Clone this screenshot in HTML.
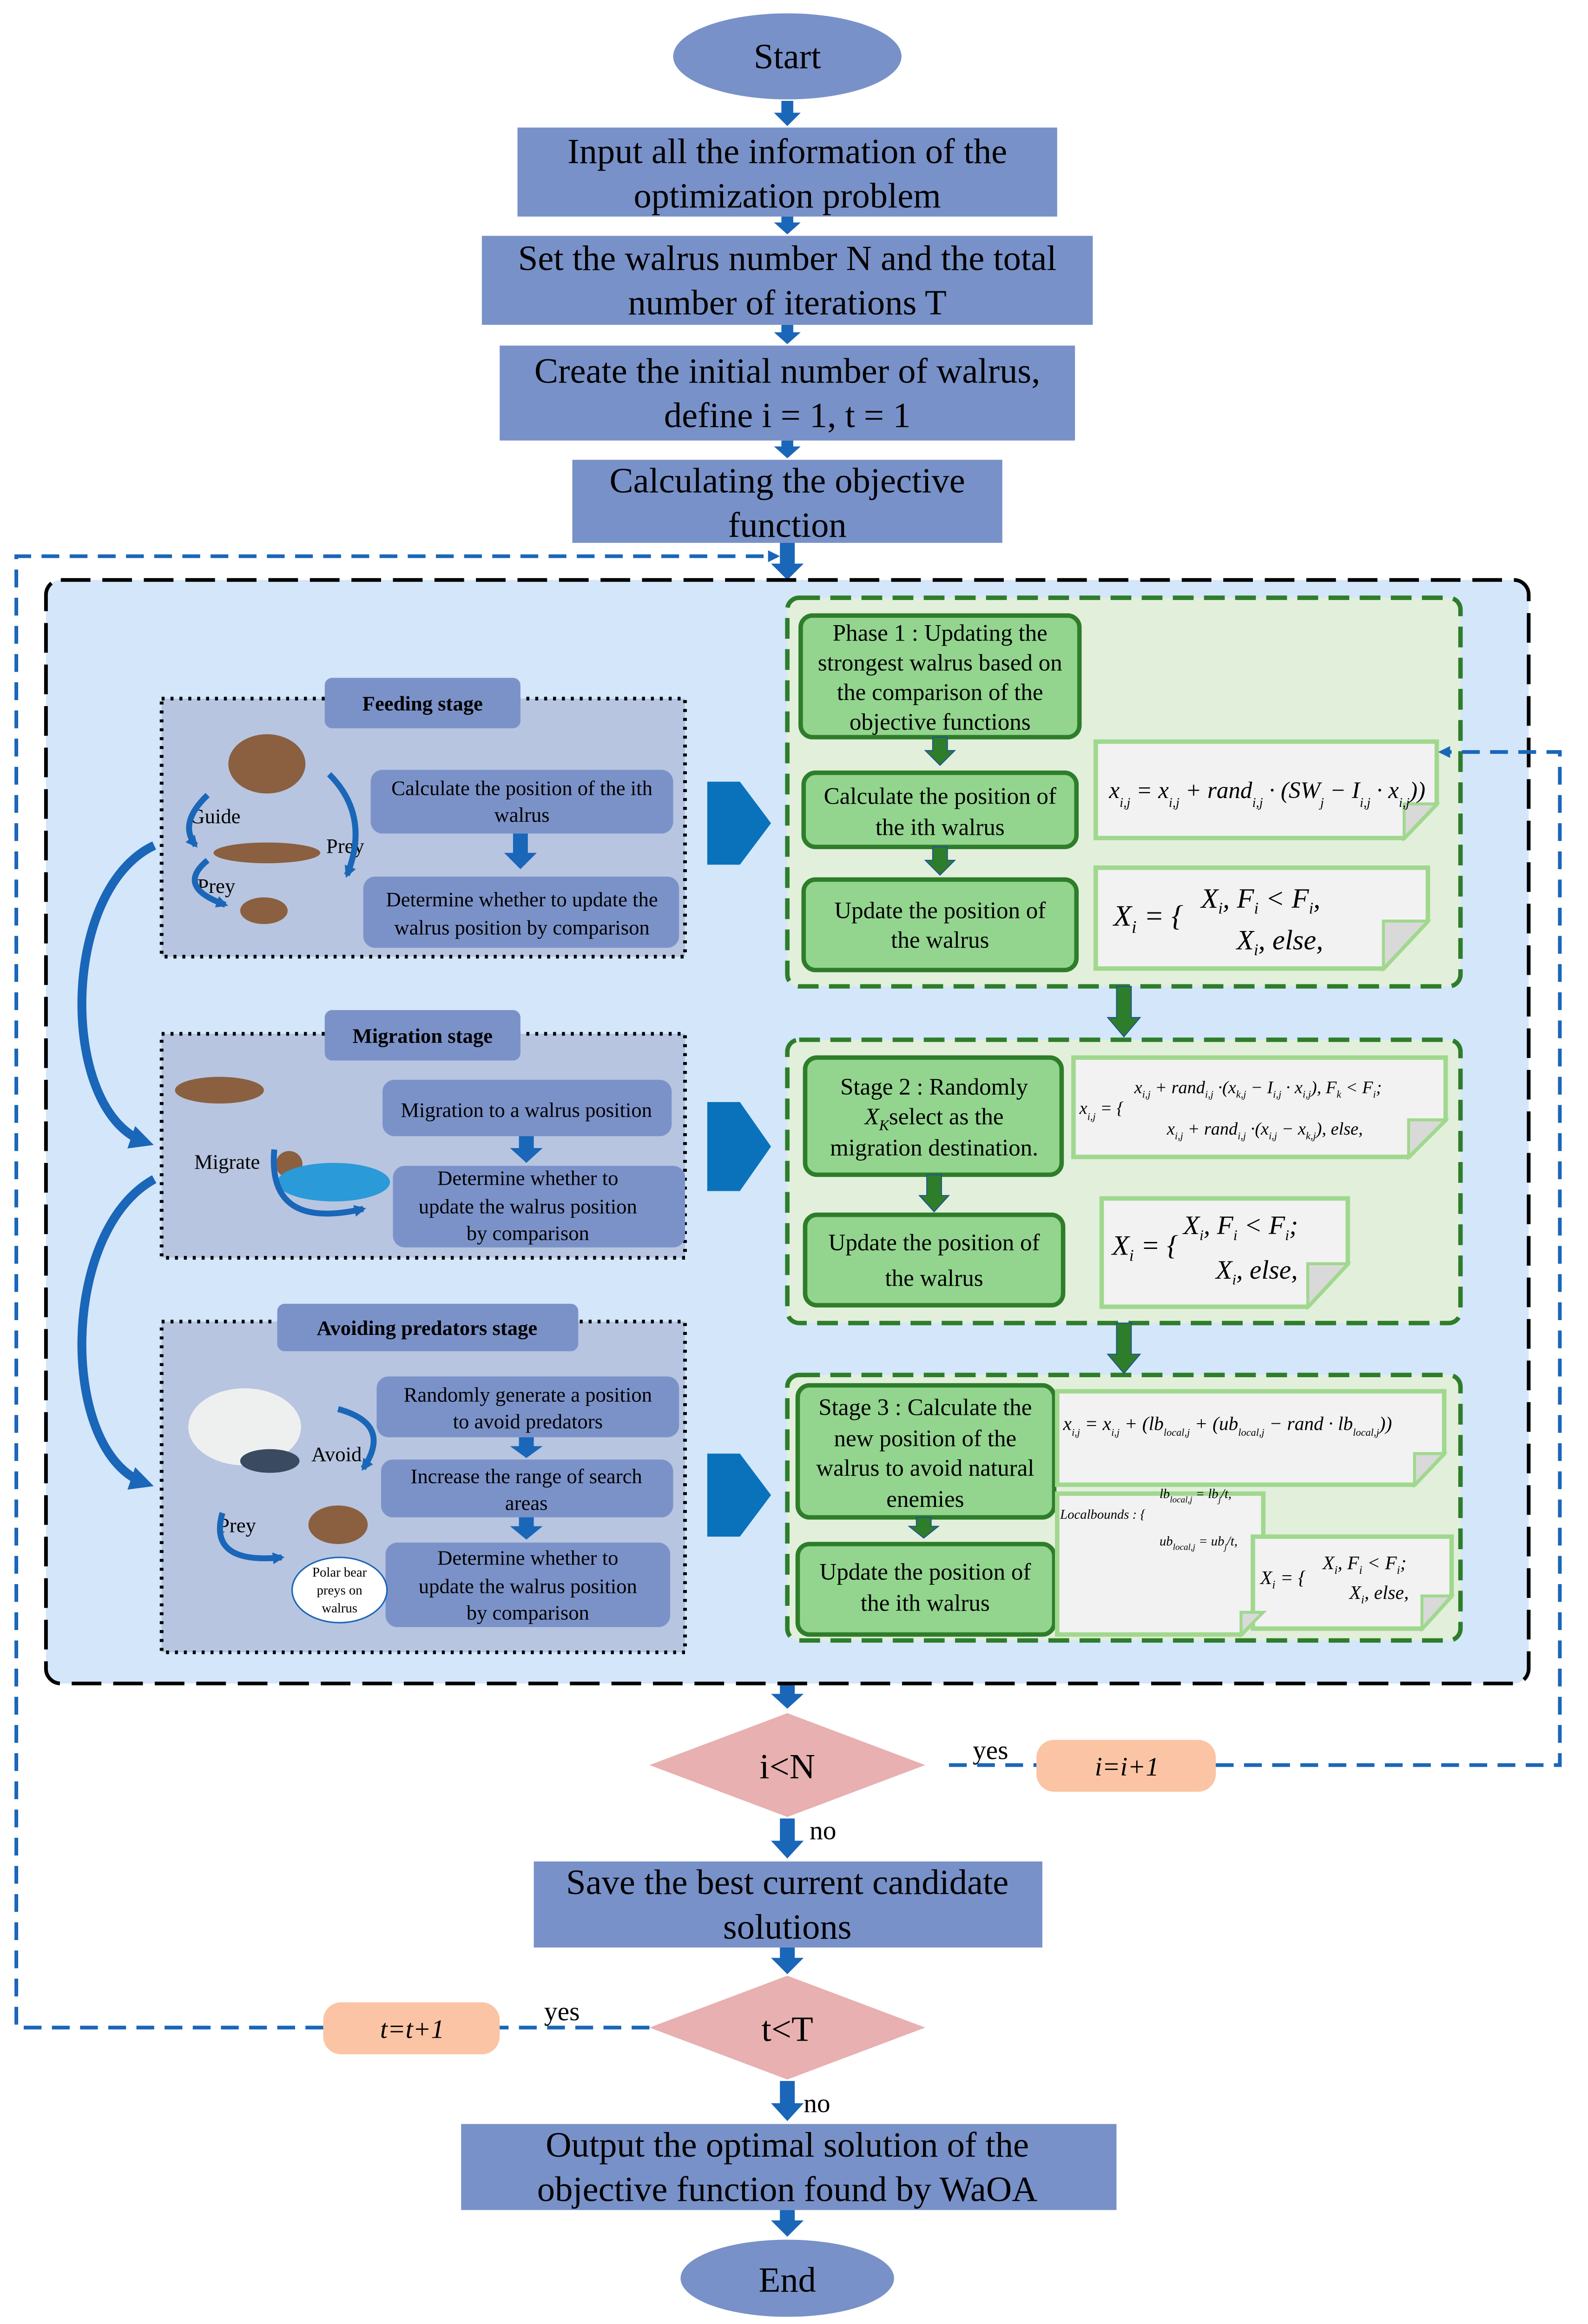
<!DOCTYPE html>
<html><head><meta charset="utf-8"><style>
html,body{margin:0;padding:0;background:#fff;overflow:hidden;width:3417px;height:5042px}
svg{display:block;position:absolute;left:0;top:0}
text{font-family:"Liberation Serif",serif}
.it{font-style:italic}
</style></head><body>
<svg width="3417" height="5042" viewBox="0 0 1071 1580" preserveAspectRatio="none" xmlns="http://www.w3.org/2000/svg">
<defs>
<marker id="ad" markerWidth="8" markerHeight="8" refX="6" refY="4" orient="auto" markerUnits="userSpaceOnUse"><path d="M0,0 L8,4 L0,8 z" fill="#1a66b8"/></marker>
<marker id="cv" markerWidth="16" markerHeight="16" refX="10" refY="8" orient="auto" markerUnits="userSpaceOnUse"><path d="M0,0 L16,8 L0,16 z" fill="#1a66b8"/></marker>
</defs>
<rect width="1071" height="1580" fill="#fff"/>
<g fill="#1a66b8">
<path d="M527,68 h8 v8 h5 l-9,9 l-9,-9 h5z"/>
<path d="M527,146 h8 v4 h5 l-9,8 l-9,-8 h5z"/>
<path d="M527,219 h8 v5 h5 l-9,8 l-9,-8 h5z"/>
<path d="M527,297 h8 v4 h5 l-9,8 l-9,-8 h5z"/>
<path d="M526,366 h10 v14 h6 l-11,11 l-11,-11 h6z"/>
<path d="M526,1135 h10 v7 h6 l-11,10 l-11,-10 h6z"/>
<path d="M526,1226 h10 v15 h6 l-11,12 l-11,-12 h6z"/>
<path d="M526,1313 h10 v7 h6 l-11,11 l-11,-11 h6z"/>
<path d="M526,1403 h10 v15 h6 l-11,12 l-11,-12 h6z"/>
<path d="M526,1490 h10 v7 h6 l-11,11 l-11,-11 h6z"/>
</g>
<ellipse cx="531" cy="38" rx="77" ry="29" fill="#7891c8"/>
<text x="531" y="46" font-size="24" text-anchor="middle">Start</text>
<rect x="349" y="86" width="364" height="60" fill="#7891c8"/>
<text x="531" y="110" font-size="24" text-anchor="middle">Input all the information of the</text>
<text x="531" y="140" font-size="24" text-anchor="middle">optimization problem</text>
<rect x="325" y="159" width="412" height="60" fill="#7891c8"/>
<text x="531" y="182" font-size="24" text-anchor="middle">Set the walrus number N and the total</text>
<text x="531" y="212" font-size="24" text-anchor="middle">number of iterations T</text>
<rect x="337" y="233" width="388" height="64" fill="#7891c8"/>
<text x="531" y="258" font-size="24" text-anchor="middle">Create the initial number of walrus,</text>
<text x="531" y="288" font-size="24" text-anchor="middle">define i = 1, t = 1</text>
<rect x="386" y="310" width="290" height="56" fill="#7891c8"/>
<text x="531" y="332" font-size="24" text-anchor="middle">Calculating the objective</text>
<text x="531" y="362" font-size="24" text-anchor="middle">function</text>

<rect x="31" y="391" width="1000" height="744" rx="10" fill="#d3e6fa" stroke="#000" stroke-width="2.5" stroke-dasharray="20,8"/>

<g stroke="#000" stroke-width="2.5" stroke-dasharray="2,4" fill="#b7c5e0">
<rect x="109" y="471" width="353" height="174"/>
<rect x="109" y="697" width="353" height="151"/>
<rect x="109" y="891" width="353" height="223"/>
</g>
<g fill="#7b92c9">
<rect x="219" y="457" width="132" height="34" rx="5"/>
<rect x="219" y="681" width="132" height="34" rx="5"/>
<rect x="187" y="879" width="203" height="32" rx="5"/>
<rect x="250" y="519" width="204" height="43" rx="8"/>
<rect x="245" y="591" width="213" height="48" rx="8"/>
<rect x="258" y="728" width="195" height="38" rx="8"/>
<rect x="265" y="786" width="197" height="55" rx="8"/>
<rect x="254" y="928" width="204" height="41" rx="8"/>
<rect x="257" y="984" width="197" height="39" rx="8"/>
<rect x="260" y="1040" width="192" height="57" rx="8"/>
</g>
<g font-size="14" font-weight="bold" text-anchor="middle">
<text x="285" y="479">Feeding stage</text>
<text x="285" y="703">Migration stage</text>
<text x="288" y="900">Avoiding predators stage</text>
</g>
<g font-size="14" text-anchor="middle">
<text x="352" y="536">Calculate the position of the ith</text>
<text x="352" y="554">walrus</text>
<text x="352" y="611">Determine whether to update the</text>
<text x="352" y="630">walrus position by comparison</text>
<text x="355" y="753">Migration to a walrus position</text>
<text x="356" y="799">Determine whether to</text>
<text x="356" y="818">update the walrus position</text>
<text x="356" y="836">by comparison</text>
<text x="356" y="945">Randomly generate a position</text>
<text x="356" y="963">to avoid predators</text>
<text x="355" y="1000">Increase the range of search</text>
<text x="355" y="1018">areas</text>
<text x="356" y="1055">Determine whether to</text>
<text x="356" y="1074">update the walrus position</text>
<text x="356" y="1092">by comparison</text>
</g>
<g fill="#1a66b8">
<path d="M346,562 h10 v13 h6 l-11,11 l-11,-11 h6z"/>
<path d="M350,766 h10 v8 h6 l-11,10 l-11,-10 h6z"/>
<path d="M350,969 h10 v6 h6 l-11,8 l-11,-8 h6z"/>
<path d="M350,1023 h10 v6 h6 l-11,9 l-11,-9 h6z"/>
</g>
<g fill="#8a6040"><ellipse cx="180" cy="515" rx="26" ry="20"/><ellipse cx="180" cy="575" rx="36" ry="7"/><ellipse cx="178" cy="614" rx="16" ry="9"/><ellipse cx="148" cy="735" rx="30" ry="9"/><ellipse cx="228" cy="1028" rx="20" ry="13"/><ellipse cx="195" cy="785" rx="9" ry="9"/></g>
<ellipse cx="225" cy="797" rx="38" ry="13" fill="#2a9ad8"/>
<ellipse cx="165" cy="962" rx="38" ry="26" fill="#eef0f0"/>
<ellipse cx="182" cy="985" rx="20" ry="8" fill="#3a4a60"/>
<g font-size="14"><text x="128" y="555">Guide</text><text x="220" y="575">Prey</text><text x="133" y="602">Prey</text><text x="131" y="788">Migrate</text><text x="210" y="985">Avoid</text><text x="147" y="1033">Prey</text></g>
<g fill="none" stroke="#1a66b8" stroke-width="4">
<path d="M222,522 Q250,550 234,590" marker-end="url(#ad)"/>
<path d="M140,536 Q120,555 132,570" marker-end="url(#ad)"/>
<path d="M140,580 Q118,598 152,610" marker-end="url(#ad)"/>
<path d="M185,775 Q180,830 245,815" marker-end="url(#ad)"/>
<path d="M228,950 Q265,960 245,990" marker-end="url(#ad)"/>
<path d="M150,1020 Q140,1055 190,1050" marker-end="url(#ad)"/>
</g>
<ellipse cx="229" cy="1072" rx="32" ry="22" fill="#fff" stroke="#1a66b8"/>
<g font-size="9" text-anchor="middle"><text x="229" y="1063">Polar bear</text><text x="229" y="1075">preys on</text><text x="229" y="1087">walrus</text></g>
<g fill="none" stroke="#1a66b8" stroke-width="6">
<path d="M104,570 C40,600 40,750 98,770" marker-end="url(#cv)"/>
<path d="M104,795 C40,830 40,980 98,1000" marker-end="url(#cv)"/>
</g>
<g fill="#0a72bb">
<path d="M477,527 h22 l21,28 l-21,28 h-22z"/>
<path d="M477,743 h22 l21,30 l-21,30 h-22z"/>
<path d="M477,980 h22 l21,28 l-21,28 h-22z"/>
</g>

<g fill="#e2efdb" stroke="#2e7d2a" stroke-width="3" stroke-dasharray="14,7">
<rect x="531" y="403" width="454" height="262" rx="8"/>
<rect x="531" y="701" width="454" height="191" rx="8"/>
<rect x="531" y="927" width="454" height="179" rx="8"/>
</g>
<g fill="#93d58e" stroke="#2e7d2a" stroke-width="3">
<rect x="540" y="415" width="188" height="82" rx="8"/>
<rect x="542" y="521" width="184" height="50" rx="8"/>
<rect x="542" y="593" width="184" height="61" rx="8"/>
<rect x="543" y="713" width="173" height="79" rx="8"/>
<rect x="543" y="819" width="174" height="61" rx="8"/>
<rect x="538" y="934" width="173" height="89" rx="8"/>
<rect x="538" y="1041" width="173" height="61" rx="8"/>
</g>
<g font-size="16" text-anchor="middle">
<text x="634" y="432">Phase 1 : Updating the</text>
<text x="634" y="452">strongest walrus based on</text>
<text x="634" y="472">the comparison of the</text>
<text x="634" y="492">objective functions</text>
<text x="634" y="542">Calculate the position of</text>
<text x="634" y="563">the ith walrus</text>
<text x="634" y="619">Update the position of</text>
<text x="634" y="639">the walrus</text>
<text x="630" y="738">Stage 2 : Randomly</text>
<text x="630" y="758"><tspan class="it">X</tspan><tspan font-size="10" class="it" dy="4">K</tspan><tspan dy="-4">select      as the</tspan></text>
<text x="630" y="779">migration destination.</text>
<text x="630" y="843">Update the position of</text>
<text x="630" y="867">the walrus</text>
<text x="624" y="954">Stage 3 : Calculate the</text>
<text x="624" y="975">new position of the</text>
<text x="624" y="995">walrus to avoid natural</text>
<text x="624" y="1016">enemies</text>
<text x="624" y="1065">Update the position of</text>
<text x="624" y="1086">the ith walrus</text>
</g>
<g fill="#2e7d2a" stroke="#1a4fa0" stroke-width="0.6">
<path d="M629,497 h10 v9 h5 l-10,10 l-10,-10 h5z"/>
<path d="M629,571 h10 v9 h5 l-10,10 l-10,-10 h5z"/>
<path d="M625,792 h10 v14 h5 l-10,11 l-10,-11 h5z"/>
<path d="M618,1023 h10 v6 h5 l-10,8 l-10,-8 h5z"/>
<path d="M753,665 h10 v21 h6 l-11,13 l-11,-13 h6z"/>
<path d="M753,892 h10 v21 h6 l-11,13 l-11,-13 h6z"/>
</g>
<g fill="#f2f2f2" stroke="#a0d88e" stroke-width="3">
<path d="M739,500 h230 v42 l-22,23 h-208z"/>
<path d="M739,585 h224 v36 l-30,32 h-194z"/>
<path d="M724,713 h251 v42 l-25,25 h-226z"/>
<path d="M743,808 h166 v44 l-27,29 h-139z"/>
<path d="M713,938 h261 v42 l-20,21 h-241z"/>
<path d="M713,1007 h139 v80 l-15,15 h-124z"/>
<path d="M845,1036 h134 v40 l-20,22 h-114z"/>
</g>
<g fill="#d9d9d9" stroke="#a0d88e" stroke-width="2">
<path d="M947,565 l22,-23 h-22z"/><path d="M933,653 l30,-32 h-30z"/><path d="M950,780 l25,-25 h-25z"/><path d="M882,881 l27,-29 h-27z"/><path d="M954,1001 l20,-21 h-20z"/><path d="M837,1102 l15,-15 h-15z"/><path d="M959,1098 l20,-22 h-20z"/>
</g>
<g class="it" font-size="16">
<text x="748" y="538">x<tspan font-size="9" dy="6">i,j</tspan><tspan dy="-6"> = x</tspan><tspan font-size="9" dy="6">i,j</tspan><tspan dy="-6"> + rand</tspan><tspan font-size="9" dy="6">i,j</tspan><tspan dy="-6"> · (SW</tspan><tspan font-size="9" dy="6">j</tspan><tspan dy="-6"> − I</tspan><tspan font-size="9" dy="6">i,j</tspan><tspan dy="-6"> · x</tspan><tspan font-size="9" dy="6">i,j</tspan><tspan dy="-6">))</tspan></text>
<text x="751" y="624" font-size="20">X<tspan font-size="12" dy="5">i</tspan><tspan dy="-5"> = {</tspan></text>
<text x="810" y="612" font-size="19">X<tspan font-size="11" dy="4">i</tspan><tspan dy="-4">,    F</tspan><tspan font-size="11" dy="4">i</tspan><tspan dy="-4"> &lt; F</tspan><tspan font-size="11" dy="4">i</tspan><tspan dy="-4">,</tspan></text>
<text x="834" y="640" font-size="19">X<tspan font-size="11" dy="4">i</tspan><tspan dy="-4">,    else,</tspan></text>
<text x="728" y="751" font-size="12">x<tspan font-size="7" dy="4">i,j</tspan><tspan dy="-4"> = {</tspan></text>
<text x="765" y="737" font-size="12">x<tspan font-size="7" dy="3">i,j</tspan><tspan dy="-3"> + rand</tspan><tspan font-size="7" dy="3">i,j</tspan><tspan dy="-3"> ·(x</tspan><tspan font-size="7" dy="3">k,j</tspan><tspan dy="-3"> − I</tspan><tspan font-size="7" dy="3">i,j</tspan><tspan dy="-3"> · x</tspan><tspan font-size="7" dy="3">i,j</tspan><tspan dy="-3">), F</tspan><tspan font-size="7" dy="3">k</tspan><tspan dy="-3"> &lt; F</tspan><tspan font-size="7" dy="3">i</tspan><tspan dy="-3">;</tspan></text>
<text x="787" y="765" font-size="12">x<tspan font-size="7" dy="3">i,j</tspan><tspan dy="-3"> + rand</tspan><tspan font-size="7" dy="3">i,j</tspan><tspan dy="-3"> ·(x</tspan><tspan font-size="7" dy="3">i,j</tspan><tspan dy="-3"> − x</tspan><tspan font-size="7" dy="3">k,j</tspan><tspan dy="-3">), else,</tspan></text>
<text x="750" y="846" font-size="19">X<tspan font-size="11" dy="4">i</tspan><tspan dy="-4"> = {</tspan></text>
<text x="798" y="832" font-size="18">X<tspan font-size="10" dy="4">i</tspan><tspan dy="-4">, F</tspan><tspan font-size="10" dy="4">i</tspan><tspan dy="-4"> &lt; F</tspan><tspan font-size="10" dy="4">i</tspan><tspan dy="-4">;</tspan></text>
<text x="820" y="862" font-size="18">X<tspan font-size="10" dy="4">i</tspan><tspan dy="-4">, else,</tspan></text>
<text x="717" y="964" font-size="13">x<tspan font-size="7" dy="4">i,j</tspan><tspan dy="-4"> = x</tspan><tspan font-size="7" dy="4">i,j</tspan><tspan dy="-4"> + (lb</tspan><tspan font-size="7" dy="4">local,j</tspan><tspan dy="-4"> + (ub</tspan><tspan font-size="7" dy="4">local,j</tspan><tspan dy="-4"> − rand · lb</tspan><tspan font-size="7" dy="4">local,j</tspan><tspan dy="-4">))</tspan></text>
<text x="715" y="1024" font-size="9">Localbounds : {</text>
<text x="782" y="1010" font-size="9">lb<tspan font-size="6" dy="3">local,j</tspan><tspan dy="-3"> = lb</tspan><tspan font-size="6" dy="3">j</tspan><tspan dy="-3">/t,</tspan></text>
<text x="782" y="1042" font-size="9">ub<tspan font-size="6" dy="3">local,j</tspan><tspan dy="-3"> = ub</tspan><tspan font-size="6" dy="3">j</tspan><tspan dy="-3">/t,</tspan></text>
<text x="850" y="1068" font-size="13">X<tspan font-size="8" dy="3">i</tspan><tspan dy="-3"> = {</tspan></text>
<text x="892" y="1058" font-size="13">X<tspan font-size="8" dy="3">i</tspan><tspan dy="-3">, F</tspan><tspan font-size="8" dy="3">i</tspan><tspan dy="-3"> &lt; F</tspan><tspan font-size="8" dy="3">i</tspan><tspan dy="-3">;</tspan></text>
<text x="910" y="1078" font-size="13">X<tspan font-size="8" dy="3">i</tspan><tspan dy="-3">, else,</tspan></text>
</g>

<path d="M438,1190 L531,1155 L624,1190 L531,1225z" fill="#e8b0b0"/>
<text x="531" y="1199" font-size="24" text-anchor="middle">i&lt;N</text>
<rect x="360" y="1255" width="343" height="58" fill="#7891c8"/>
<text x="531" y="1277" font-size="24" text-anchor="middle">Save the best current candidate</text>
<text x="531" y="1307" font-size="24" text-anchor="middle">solutions</text>
<path d="M438,1367 L531,1332 L624,1367 L531,1402z" fill="#e8b0b0"/>
<text x="531" y="1376" font-size="24" text-anchor="middle">t&lt;T</text>
<rect x="311" y="1432" width="442" height="58" fill="#7891c8"/>
<text x="531" y="1454" font-size="24" text-anchor="middle">Output the optimal solution of the</text>
<text x="531" y="1484" font-size="24" text-anchor="middle">objective function found by WaOA</text>
<ellipse cx="531" cy="1536" rx="72" ry="26" fill="#7891c8"/>
<text x="531" y="1545" font-size="24" text-anchor="middle">End</text>
<g font-size="18"><text x="546" y="1240">no</text><text x="542" y="1424">no</text><text x="656" y="1186">yes</text><text x="367" y="1362">yes</text></g>
<rect x="699" y="1173" width="121" height="35" rx="12" fill="#fbc4a4"/>
<text x="760" y="1197" font-size="18" text-anchor="middle" class="it">i=i+1</text>
<rect x="218" y="1350" width="119" height="35" rx="12" fill="#fbc4a4"/>
<text x="278" y="1374" font-size="18" text-anchor="middle" class="it">t=t+1</text>
<g fill="none" stroke="#1a66b8" stroke-width="2.5" stroke-dasharray="12,7">
<path d="M640,1190 H699"/>
<path d="M820,1190 H1052 V507 H972" marker-end="url(#ad)"/>
<path d="M438,1367 H337"/>
<path d="M218,1367 H11 V375 H524" marker-end="url(#ad)"/>
</g>
</svg>
</body></html>
